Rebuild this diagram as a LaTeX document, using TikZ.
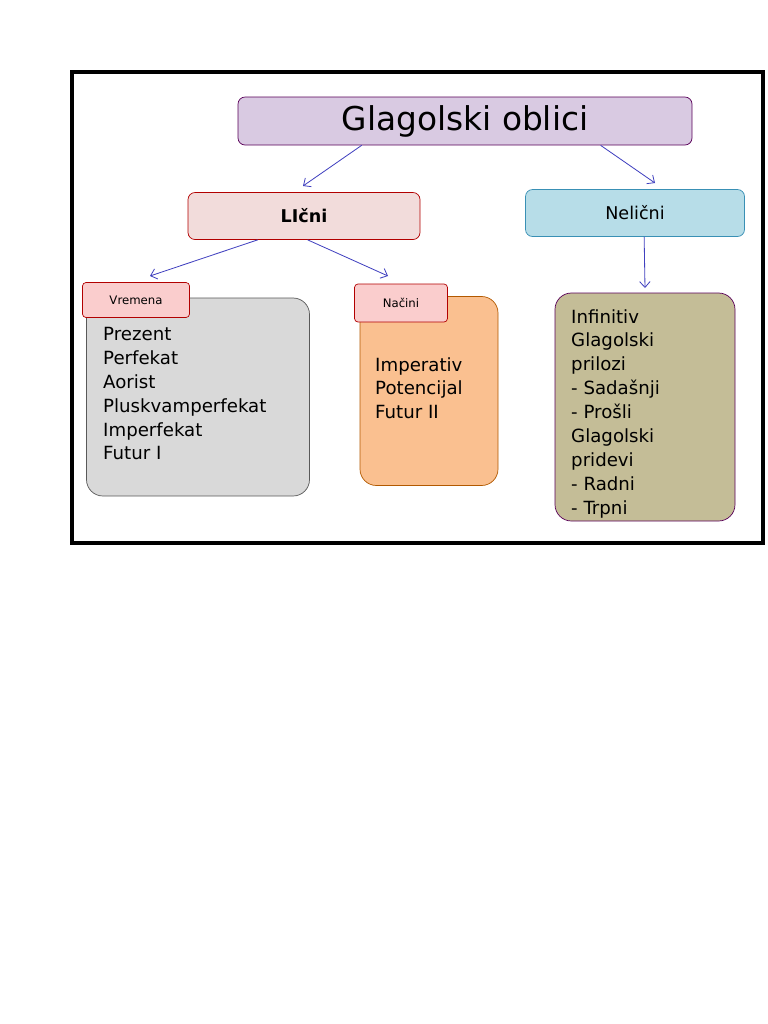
\documentclass[tikz,border=0pt]{standalone}
\usepackage{fontspec}
\setmainfont{DejaVu Sans}
\usetikzlibrary{arrows.meta}
\begin{document}
\begin{tikzpicture}[x=0.03cm,y=-0.03cm,
 bx/.style={draw=#1!70!black,rounded corners=6pt,line width=0.6pt},
 arr/.style={-{Straight Barb[length=5pt,width=9pt]},draw=blue!50!gray,line width=0.7pt},
 lst/.style={anchor=north west,align=left,font=\fontsize{15.5}{20.4}\selectfont,inner sep=0pt}]
\useasboundingbox (0,0) rectangle (768,1024);
\draw[line width=3.5pt] (72,72) rectangle (763,543);
\node[bx=violet,fill={rgb,255:red,217;green,202;blue,226},minimum width=454*0.03cm,minimum height=48*0.03cm,font=\fontsize{28}{32}\selectfont] (t) at (465,121) {Glagolski oblici};
\node[bx=red,fill={rgb,255:red,242;green,220;blue,219},minimum width=232*0.03cm,minimum height=47*0.03cm,font=\bfseries\fontsize{15}{18}\selectfont] (l) at (304,216) {LIčni};
\node[bx=cyan,fill={rgb,255:red,183;green,221;blue,232},minimum width=219*0.03cm,minimum height=47*0.03cm,font=\fontsize{15}{18}\selectfont] (n) at (635,213) {Nelični};
\node[bx=gray,fill={rgb,255:red,217;green,217;blue,217},rounded corners=14pt,minimum width=223*0.03cm,minimum height=198*0.03cm] (g) at (198,397) {};
\node[bx=orange,fill={rgb,255:red,250;green,192;blue,144},rounded corners=14pt,minimum width=138*0.03cm,minimum height=189*0.03cm] (o) at (429,391) {};
\node[bx=violet,fill={rgb,255:red,196;green,189;blue,151},rounded corners=14pt,minimum width=180*0.03cm,minimum height=228*0.03cm] (b) at (645,407) {};
\node[bx=red,fill={rgb,255:red,250;green,205;blue,205},rounded corners=3pt,minimum width=107*0.03cm,minimum height=35*0.03cm,font=\fontsize{10}{12}\selectfont] (v) at (136,300) {Vremena};
\node[bx=red,fill={rgb,255:red,250;green,205;blue,205},rounded corners=3pt,minimum width=93*0.03cm,minimum height=38*0.03cm,font=\fontsize{10}{12}\selectfont] (c) at (401,303) {Načini};
\node[lst] (gt) at (103,327) {Prezent\\Perfekat\\Aorist\\Pluskvamperfekat\\Imperfekat\\Futur I};
\node[lst] (ot) at (375,357) {Imperativ\\Potencijal\\Futur II};
\node[lst] (bt) at (571,309) {Infinitiv\\Glagolski\\prilozi\\- Sadašnji\\- Prošli\\Glagolski\\pridevi\\- Radni\\- Trpni};
\draw[arr] (t.south west)++(124,0) -- (303,186);
\draw[arr] (t.south west)++(363,0) -- (655,183);
\draw[arr] (l.south west)++(70,0) -- (150,276);
\draw[arr] (l.south west)++(120,0) -- (388,276);
\draw[arr] (n.south west)++(119,0) -- (645,288);
\end{tikzpicture}
\end{document}
